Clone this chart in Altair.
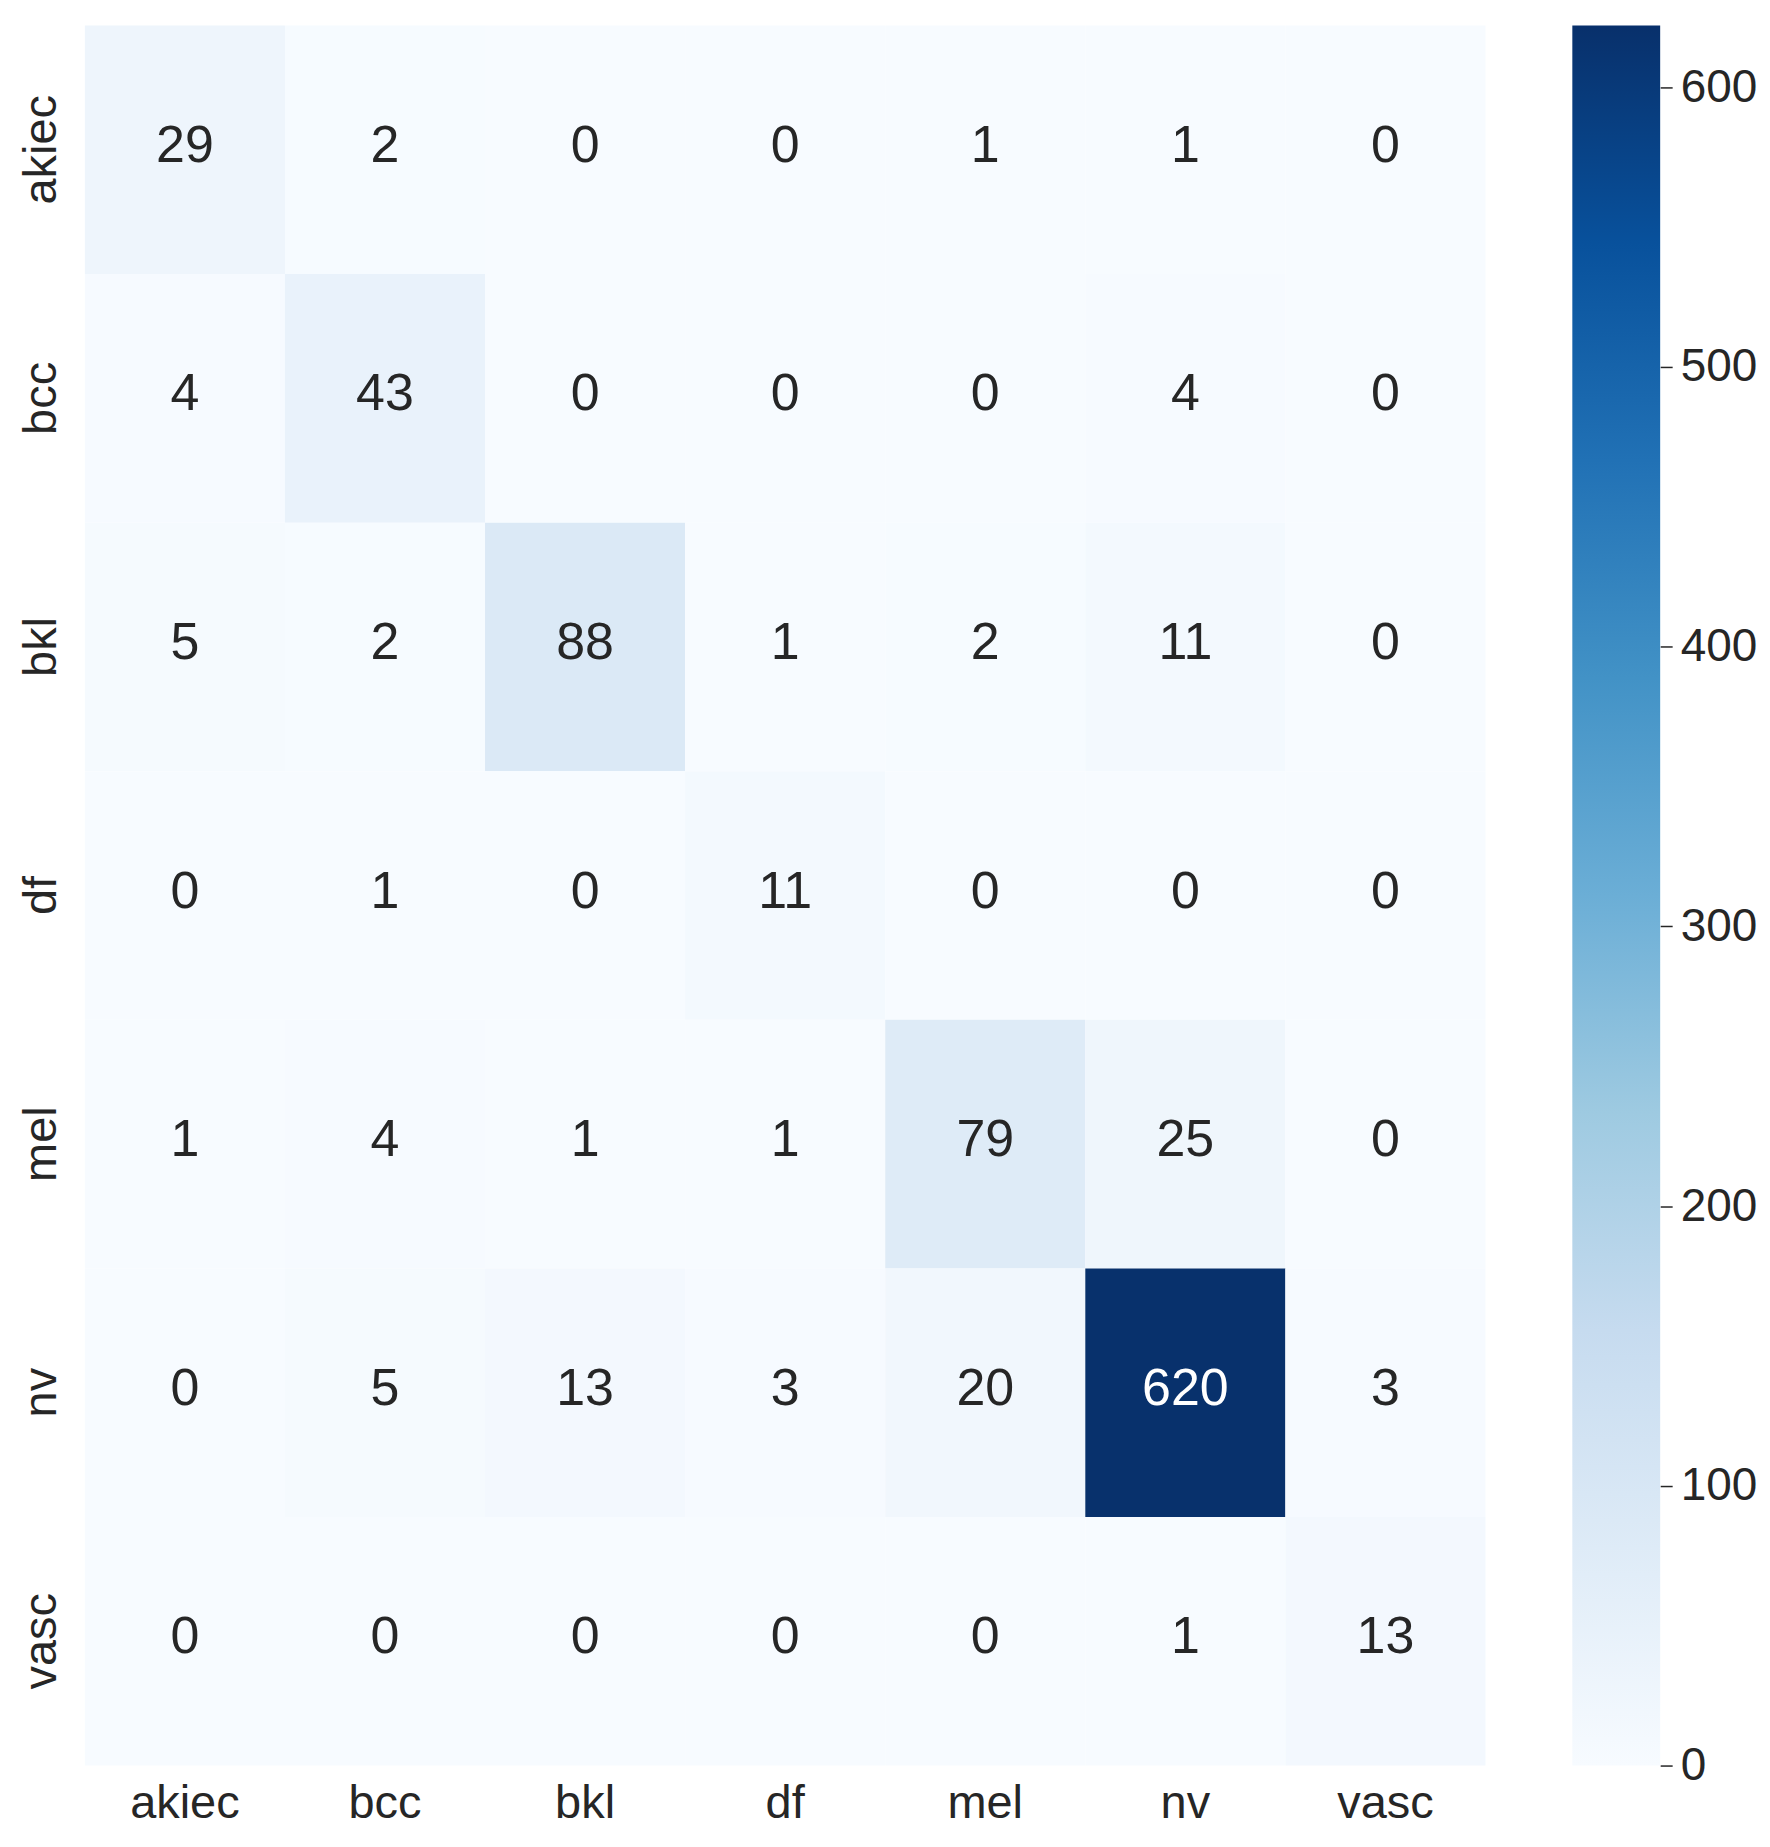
import altair as alt
import pandas as pd

classes = ["akiec", "bcc", "bkl", "df", "mel", "nv", "vasc"]
# rows = true label, columns = predicted label
row_akiec = [29, 2, 0, 0, 1, 1, 0]
row_bcc = [4, 43, 0, 0, 0, 4, 0]
row_bkl = [5, 2, 88, 1, 2, 11, 0]
row_df = [0, 1, 0, 11, 0, 0, 0]
row_mel = [1, 4, 1, 1, 79, 25, 0]
row_nv = [0, 5, 13, 3, 20, 620, 3]
row_vasc = [0, 0, 0, 0, 0, 1, 13]
matrix = [row_akiec, row_bcc, row_bkl, row_df, row_mel, row_nv, row_vasc]

cbar_ticks = [0, 100, 200, 300, 400, 500, 600]
color_max = 622
blues = ["#f7fbff", "#deebf7", "#c6dbef", "#9ecae1", "#6baed6",
         "#4292c6", "#2171b5", "#08519c", "#08306b"]

rows = []
for i, t in enumerate(classes):
    for j, p in enumerate(classes):
        rows.append({"true": t, "pred": p, "count": matrix[i][j]})
df = pd.DataFrame(rows)

FONT = "Liberation Sans"
TXT = "#262626"

color_scale = alt.Scale(domain=[0, color_max], range=blues, interpolate="rgb")

base = alt.Chart(df).encode(
    x=alt.X("pred:N", sort=classes, title=None,
            scale=alt.Scale(paddingInner=0, paddingOuter=0),
            axis=alt.Axis(labelAngle=0, labelFontSize=47, labelFont=FONT,
                          labelColor=TXT, ticks=False, domain=False,
                          labelPadding=52, labelBaseline="alphabetic")),
    y=alt.Y("true:N", sort=classes, title=None,
            scale=alt.Scale(paddingInner=0, paddingOuter=0),
            axis=alt.Axis(labelAngle=270, labelFontSize=47, labelFont=FONT,
                          labelColor=TXT, ticks=False, domain=False,
                          labelPadding=29, labelAlign="center",
                          labelBaseline="alphabetic")),
)

cells = base.mark_rect().encode(
    color=alt.Color("count:Q", scale=color_scale, legend=None)
)
labels = base.mark_text(font=FONT, fontSize=52, baseline="middle", dy=-4).encode(
    text=alt.Text("count:Q", format="d"),
    color=alt.condition(alt.datum.count > 400, alt.value("white"), alt.value(TXT)),
)
heat = (cells + labels).properties(width=1403, height=1743)

cb_df = pd.DataFrame({"lo": [0], "hi": [color_max]})
grad = alt.Gradient(
    gradient="linear",
    stops=[alt.GradientStop(offset=i / (len(blues) - 1), color=c) for i, c in enumerate(blues)],
    x1=0, x2=0, y1=1, y2=0,
)
cbar = alt.Chart(cb_df).mark_rect(color=grad).encode(
    y=alt.Y("lo:Q", title=None, scale=alt.Scale(domain=[0, color_max], nice=False, zero=True),
            axis=alt.Axis(orient="right", values=cbar_ticks, tickSize=12, tickWidth=1.5,
                          tickColor=TXT, domain=False, grid=False, labelFontSize=46,
                          labelFont=FONT, labelColor=TXT, labelPadding=8,
                          labelBaseline="middle")),
    y2="hi:Q",
).properties(width=88, height=1743)

chart = alt.hconcat(heat, cbar, spacing=87).configure_view(stroke=None).properties(
    padding={"left": 10, "top": 16, "right": 5, "bottom": 5}
)

chart.save("out.html", embed_options={"renderer": "svg", "actions": False})
